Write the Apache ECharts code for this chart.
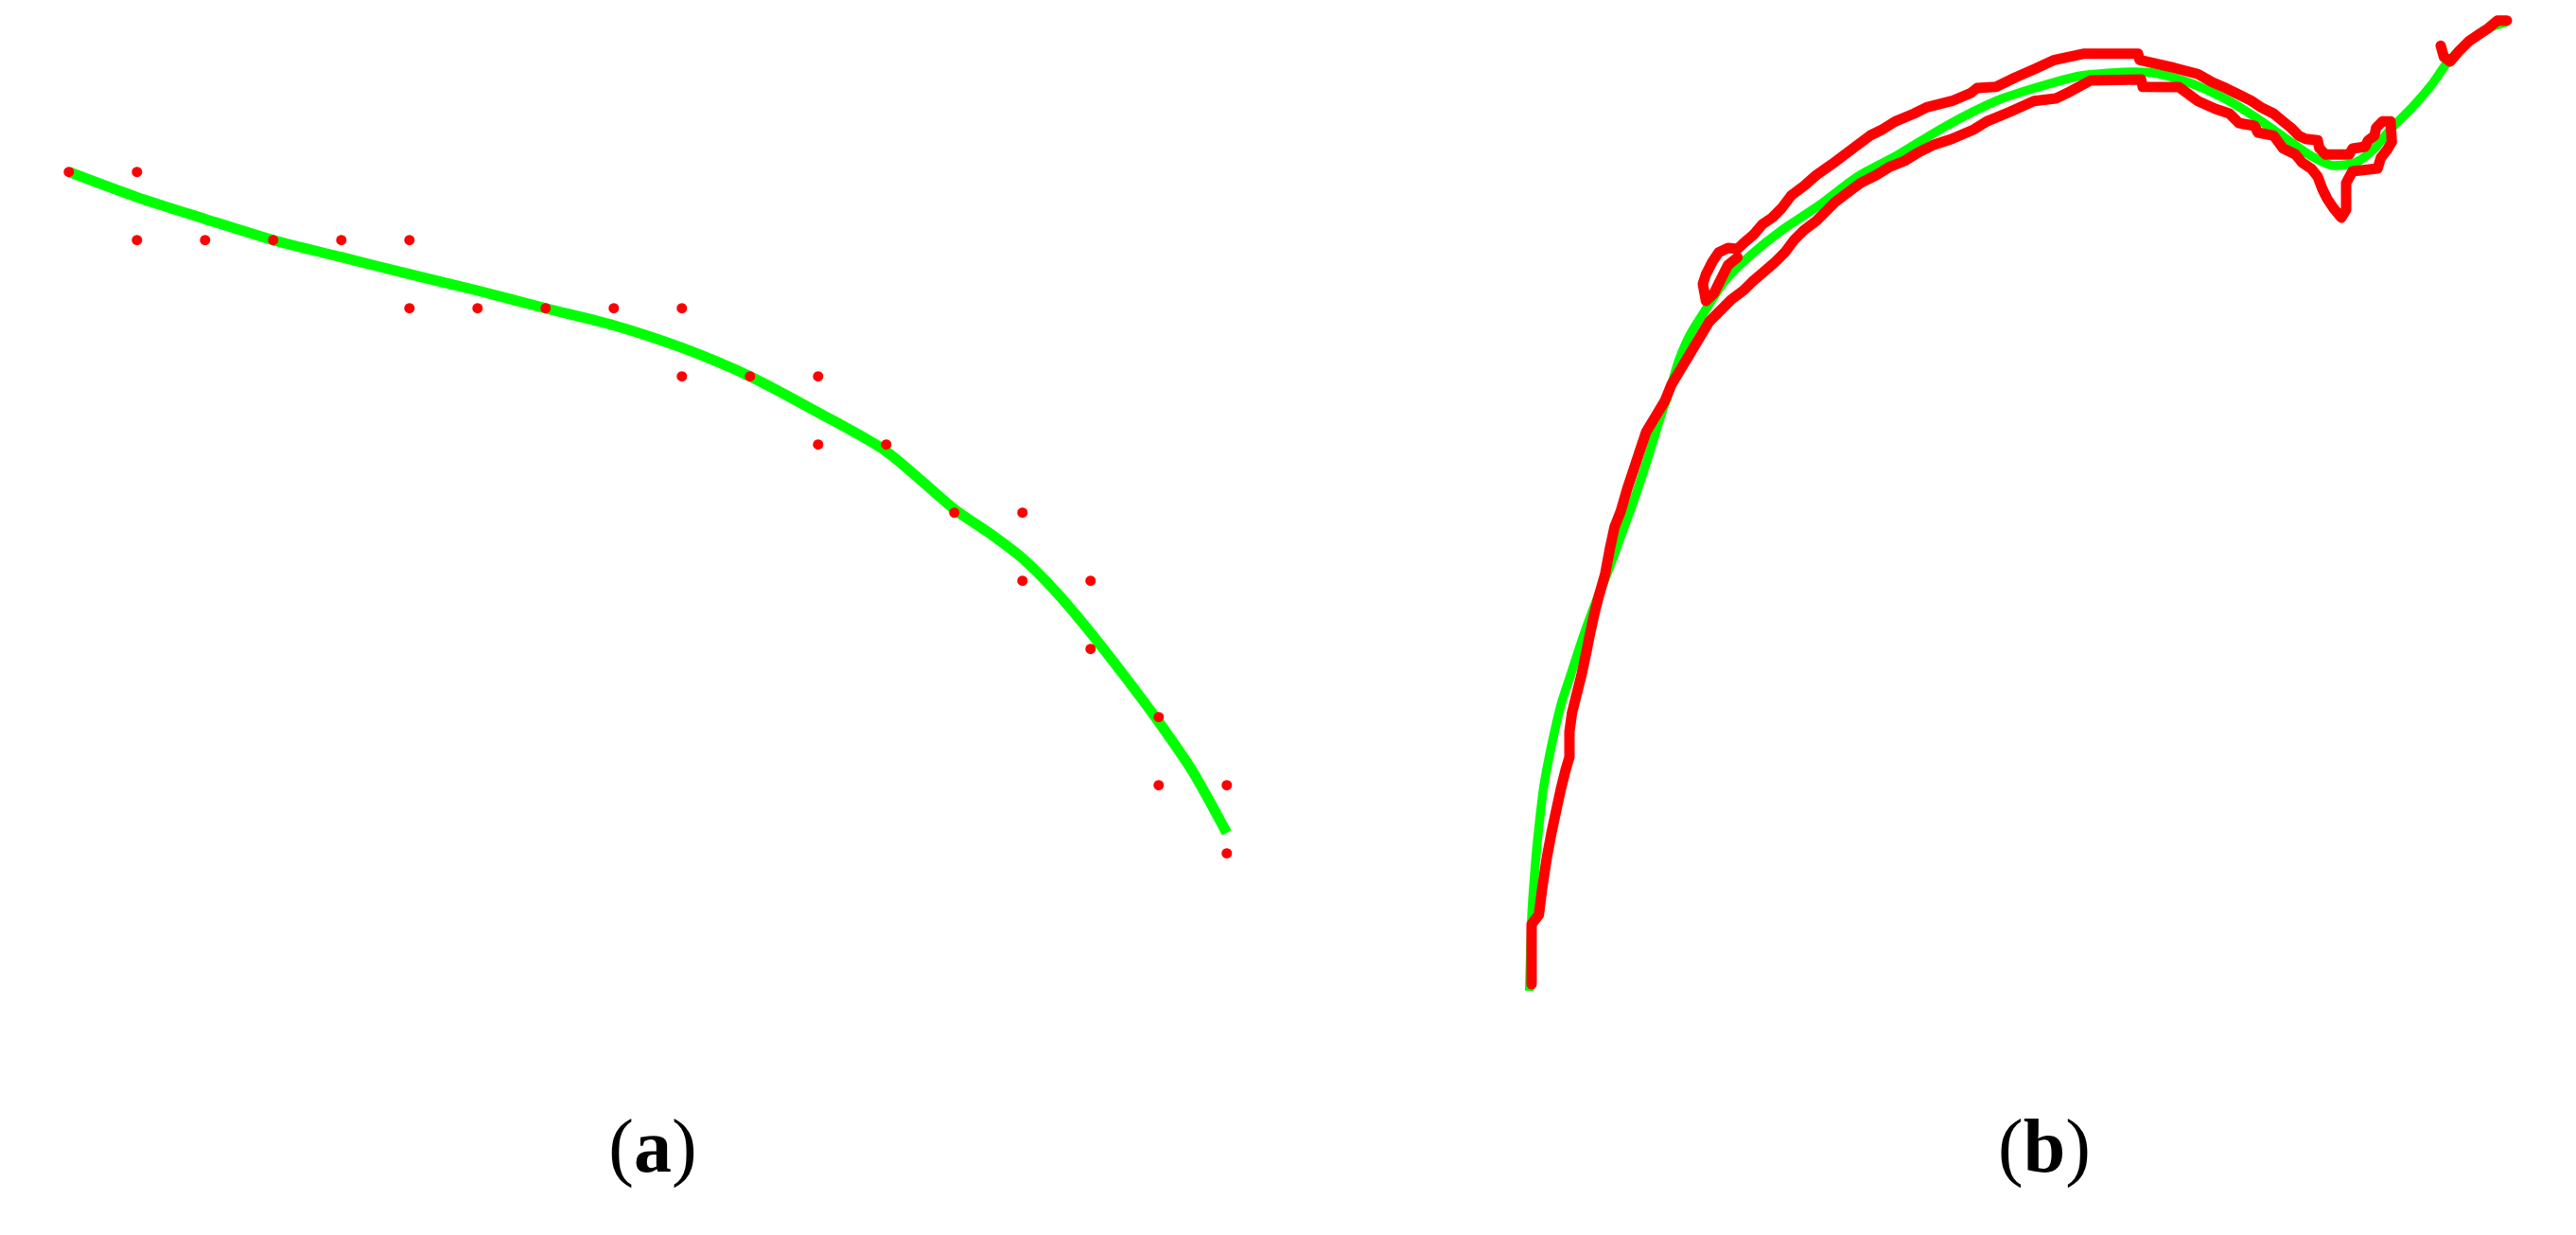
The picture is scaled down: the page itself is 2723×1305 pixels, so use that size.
<!DOCTYPE html>
<html>
<head>
<meta charset="utf-8">
<title>fit curves</title>
<script src="https://cdn.jsdelivr.net/npm/echarts@6/dist/echarts.min.js"></script>
<style>
  html, body { margin: 0; padding: 0; background: #fff; }
  #main { width: 2723px; height: 1305px; }
</style>
</head>
<body>
<div id="main"></div>
<script>
// (a) grid samples: column index, level (10 = top row)
var dotsA = [
    [0, 10], [1, 10],
    [1, 9], [2, 9], [3, 9], [4, 9], [5, 9],
    [5, 8], [6, 8], [7, 8], [8, 8], [9, 8],
    [9, 7], [10, 7], [11, 7],
    [11, 6], [12, 6],
    [13, 5], [14, 5],
    [14, 4], [15, 4],
    [15, 3],
    [16, 2],
    [16, 1], [17, 1],
    [17, 0]
];
// (a) fitted curve
var curveA = [
    [0, 10], [1, 9.63], [2, 9.31], [3, 9.0], [4, 8.75], [5, 8.5], [6, 8.26],
    [7, 8.0], [8, 7.75], [9, 7.42], [10, 7.0], [11, 6.47], [12, 5.9],
    [13, 5.05], [13.5, 4.71], [14, 4.33], [14.5, 3.83], [15, 3.24],
    [15.5, 2.6], [16, 1.93], [16.5, 1.2], [17, 0.3]
];

// (b) measured contour (red), one closed trace
var contourB = [
    [1.9, 6.0], [1.9, 12.33], [2.67, 13.33], [3.0, 16.0], [3.5, 19.33], [4.0, 22.0],
    [4.5, 24.33], [5.0, 26.67], [5.5, 28.67], [5.9, 30.0], [5.9, 32.67], [6.17, 34.67],
    [6.67, 36.67], [7.17, 38.67], [7.67, 41.0], [8.0, 42.67], [8.5, 45.0], [9.0, 47.0],
    [9.67, 49.33], [10.17, 52.0], [10.67, 54.33], [11.33, 56.0], [12.0, 58.33],
    [12.67, 60.33], [13.33, 62.33], [14.0, 64.33], [15.0, 66.0], [16.0, 67.67],
    [16.67, 69.33], [17.67, 71.0], [18.67, 72.67], [19.67, 74.33], [20.67, 76.0],
    // lower branch
    [21.67, 77.0], [23.0, 78.33], [24.33, 79.33], [25.33, 80.33], [26.33, 81.17],
    [27.67, 82.33], [28.67, 83.33], [29.67, 84.67], [30.67, 85.67], [32.0, 86.67],
    [33.0, 87.67], [34.0, 88.67], [35.33, 89.67], [36.67, 90.67], [38.33, 91.5],
    [39.67, 92.33], [41.33, 93.0], [42.67, 93.83], [44.33, 94.67], [46.33, 95.33],
    [48.67, 96.33], [50.0, 97.17], [52.5, 98.2], [55.0, 99.33], [57.33, 99.6],
    [58.83, 100.33], [61.0, 101.5], [66.33, 101.6], [66.5, 100.83], [70.33, 100.8],
    [72.33, 99.33], [74.17, 98.5], [75.67, 98.0], [76.67, 97.0], [78.33, 96.7],
    [78.67, 96.0], [80.33, 95.67], [81.33, 94.33], [82.67, 93.67], [83.33, 92.83],
    [84.33, 92.17], [85.0, 91.33], [85.5, 90.0], [86.0, 89.0], [86.67, 88.0], [87.5, 87.0],
    // notch and tip
    [88.0, 87.83], [88.0, 90.67], [88.67, 91.9], [91.33, 92.2], [91.67, 93.33],
    [92.33, 94.17], [92.83, 95.0], [92.7, 97.17], [91.83, 97.17],
    // upper branch, back to the left
    [91.17, 96.5], [91.0, 95.67], [90.33, 95.17], [90.0, 94.5], [88.67, 94.3],
    [88.33, 93.67], [85.83, 93.67], [85.17, 94.33], [85.0, 95.17], [83.67, 95.33],
    [83.0, 95.67], [82.17, 96.5], [81.33, 97.17], [80.33, 98.0], [79.0, 98.67],
    [78.0, 99.33], [76.67, 100.0], [75.33, 100.67], [73.83, 101.33], [72.33, 102.17],
    [69.83, 102.83], [66.17, 103.67], [66.0, 104.33], [60.33, 104.33], [57.17, 103.67],
    [55.0, 102.67], [53.0, 101.8], [51.0, 100.83], [49.0, 100.7], [48.33, 100.17],
    [46.33, 99.33], [43.67, 98.67], [42.33, 98.0], [40.33, 97.17], [39.0, 96.33],
    [37.67, 95.67], [36.33, 94.67], [35.0, 93.67], [33.67, 92.67], [32.0, 91.5],
    [30.67, 90.33], [29.33, 89.33], [28.33, 88.0], [27.33, 87.0], [26.33, 86.33],
    [25.33, 85.17], [24.33, 84.33], [23.67, 83.7],
    // small curl
    [22.67, 83.8], [21.67, 83.33], [21.0, 82.33], [20.33, 81.0], [20.0, 80.0],
    [20.33, 78.2], [21.17, 79.0], [22.0, 80.67], [22.67, 82.0], [23.67, 82.8]
];
// (b) short trace at the far end
var tailB = [
    [98.0, 105.17], [98.33, 104.0], [99.0, 103.5], [100.0, 104.67], [101.0, 105.67],
    [102.0, 106.33], [103.0, 107.0], [104.0, 107.83], [105.0, 107.83]
];
// (b) fitted curve (green)
var curveB = [
    [1.67, 5.3], [1.8, 10.0], [1.95, 14.0], [2.2, 17.5], [2.45, 20.5], [2.8, 23.8],
    [3.2, 27.0], [4.0, 31.2], [5.0, 35.5], [6.0, 38.6], [7.33, 42.67], [8.67, 46.33],
    [10.0, 49.67], [11.33, 53.33], [12.67, 57.0], [14.0, 61.0], [15.33, 65.33],
    [16.67, 69.33], [17.5, 72.0], [18.67, 74.67], [20.33, 77.33], [22.33, 80.33],
    [25.0, 83.0], [28.33, 85.67], [32.33, 88.33], [36.33, 91.33], [40.67, 93.67],
    [45.67, 96.67], [51.0, 99.33], [55.0, 100.67], [60.0, 102.0], [65.67, 102.4],
    [68.33, 102.17], [71.67, 101.17], [75.0, 99.67], [78.33, 97.67], [81.67, 95.33],
    [84.33, 93.5], [86.67, 92.5], [89.0, 92.83], [91.0, 94.33], [92.67, 96.33],
    [95.0, 98.67], [97.0, 101.0], [98.67, 103.33], [101.0, 105.67], [103.0, 107.0],
    [105.0, 107.67]
];

var panelLabels = ['a', 'b'];

var RED = '#ff0000';
var GREEN = '#00ff00';

var chart = echarts.init(document.getElementById('main'));

function hiddenAxis(idx, mn, mx) {
    return {
        type: 'value', gridIndex: idx, min: mn, max: mx,
        show: false, splitLine: {show: false}
    };
}

function panelLabel(cx, letter) {
    return {
        type: 'text',
        x: cx,
        y: 1217,
        style: {
            text: '{n|(}{b|' + letter + '}{n|)}',
            align: 'center',
            verticalAlign: 'middle',
            textAlign: 'center',
            textVerticalAlign: 'middle',
            rich: {
                n: {fontFamily: '"Liberation Serif", "DejaVu Serif", serif', fontSize: 80, fill: '#000', color: '#000'},
                b: {fontFamily: '"Liberation Serif", "DejaVu Serif", serif', fontSize: 80, fontWeight: 'bold', fill: '#000', color: '#000'}
            }
        }
    };
}

var option = {
    backgroundColor: '#ffffff',
    animation: false,
    grid: [
        {left: 0.8, top: 109.7, width: 1368, height: 864},
        {left: 1600, top: 0, width: 1100, height: 1100}
    ],
    xAxis: [hiddenAxis(0, -1, 18), hiddenAxis(1, 0, 110)],
    yAxis: [hiddenAxis(0, -1, 11), hiddenAxis(1, 0, 110)],
    series: [
        {
            name: 'fit a',
            type: 'line',
            xAxisIndex: 0, yAxisIndex: 0,
            data: curveA,
            smooth: 0.25,
            showSymbol: false,
            lineStyle: {color: GREEN, width: 11, cap: 'butt', join: 'round'},
            z: 2
        },
        {
            name: 'samples a',
            type: 'scatter',
            xAxisIndex: 0, yAxisIndex: 0,
            data: dotsA,
            symbol: 'circle',
            symbolSize: 11,
            itemStyle: {color: RED, opacity: 1},
            z: 3
        },
        {
            name: 'fit b',
            type: 'line',
            xAxisIndex: 1, yAxisIndex: 1,
            data: curveB,
            smooth: 0.25,
            showSymbol: false,
            lineStyle: {color: GREEN, width: 9.5, cap: 'butt', join: 'round'},
            z: 2
        },
        {
            name: 'contour b',
            type: 'line',
            xAxisIndex: 1, yAxisIndex: 1,
            data: contourB,
            showSymbol: false,
            lineStyle: {color: RED, width: 11, cap: 'round', join: 'round'},
            z: 3
        },
        {
            name: 'tail b',
            type: 'line',
            xAxisIndex: 1, yAxisIndex: 1,
            data: tailB,
            showSymbol: false,
            lineStyle: {color: RED, width: 11, cap: 'round', join: 'round'},
            z: 3
        }
    ],
    graphic: [
        panelLabel(690, panelLabels[0]),
        panelLabel(2161, panelLabels[1])
    ]
};
chart.setOption(option);
</script>
</body>
</html>
